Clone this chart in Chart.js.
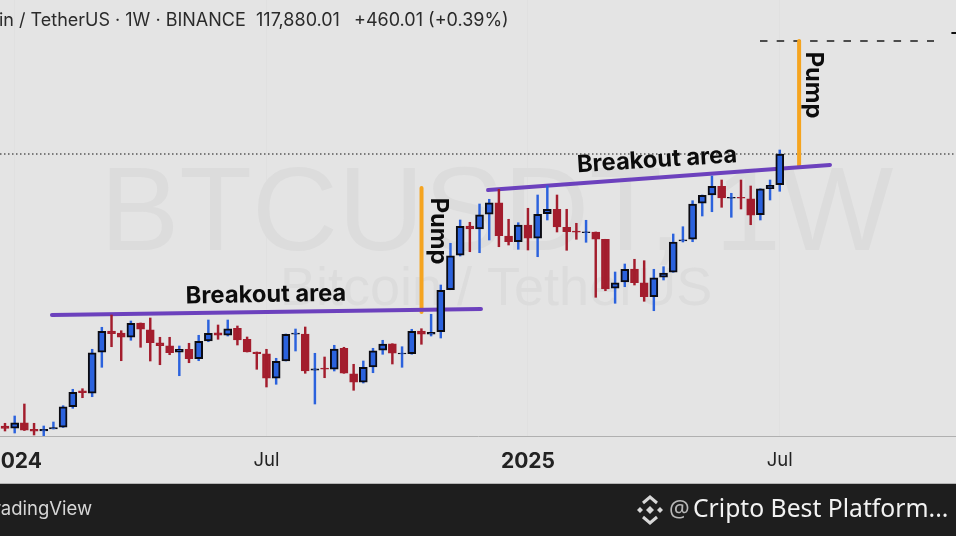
<!DOCTYPE html>
<html>
<head>
<meta charset="utf-8">
<style>
  html, body { margin: 0; padding: 0; background: #e4e4e4; overflow: hidden; }
  canvas { display: block; }
</style>
<script src="https://cdn.jsdelivr.net/npm/chart.js@4/dist/chart.umd.min.js"></script>
</head>
<body>
<canvas id="btcChart" width="956" height="536"></canvas>
<script>
/*------------------------------weekly candles-----------------------------*/
const opens = [
  41720, 41080, 42640, 40800, 40320, 40880, 41360, 47120, 51600, 50880,
  62360, 68320, 67760, 66560, 70560, 68680, 65040, 64200, 62360, 63200,
  60560, 65520, 67840, 67120, 69080, 66000, 62440, 61960, 55080, 59920,
  67400, 67480, 57320, 57960, 57600, 63480, 56360, 53960, 58240, 62920,
  64760, 61880, 61960, 68320, 67400, 68120, 79880, 89520, 97720, 96880,
  101000, 104240, 94920, 93320, 98000, 94280, 101160, 102400, 97360, 96320,
  95840, 96040, 94000, 80280, 82040, 85680, 81840, 77920, 83360, 84760,
  93520, 94000, 104080, 106400, 108840, 105480, 105760, 105360, 100880, 108160,
  109280
];
const highs = [
  42480, 44520, 47880, 42480, 41720, 42840, 47400, 52000, 52160, 63200,
  69360, 72800, 68400, 71120, 70560, 71960, 66560, 66560, 64120, 64880,
  67120, 71400, 70000, 71400, 69720, 66640, 62440, 63200, 60680, 67480,
  68880, 69440, 62080, 61040, 64320, 63760, 59000, 59920, 63480, 65720,
  64760, 63920, 68800, 68960, 73000, 81200, 92880, 99400, 98760, 103880,
  105200, 108000, 99600, 98640, 102680, 106400, 109000, 106400, 102400, 98480,
  99320, 96040, 94000, 84840, 87080, 88400, 88000, 85600, 86320, 95480,
  97520, 104800, 106400, 111720, 110600, 106880, 110600, 108920, 108160, 110600,
  119000
];
const lows = [
  40320, 39760, 40460, 39200, 38920, 40880, 41300, 46680, 49640, 49920,
  58160, 63920, 60000, 65720, 63760, 59920, 58880, 61680, 55800, 59440,
  60000, 65320, 66000, 66920, 64400, 62440, 57600, 52640, 53400, 59920,
  62720, 56480, 47880, 55240, 57120, 56480, 51720, 53760, 56640, 61800,
  59080, 58160, 61800, 64600, 66920, 66360, 79880, 89320, 90520, 90240,
  93800, 91920, 92400, 91200, 91000, 89120, 99400, 96040, 90920, 94000,
  93160, 77760, 79600, 76080, 80720, 81200, 76640, 74000, 82600, 84760,
  93240, 93320, 100520, 101720, 102960, 100160, 102480, 98080, 99400, 105000,
  107440
];
const closes = [
  41020, 42640, 40520, 40240, 40800, 41300, 47120, 51160, 51040, 62240,
  68240, 67560, 66560, 70480, 68800, 65040, 64200, 62240, 63200, 60560,
  65440, 67680, 67120, 68960, 65800, 62440, 61960, 55080, 59840, 67400,
  67760, 57120, 57760, 57600, 63280, 56480, 53960, 58160, 62800, 64680,
  62080, 62160, 68240, 67400, 67960, 79720, 89400, 97640, 96880, 100880,
  104240, 95000, 93320, 98000, 94280, 101000, 102400, 97440, 96120, 95960,
  96120, 94000, 80080, 81840, 85600, 81840, 77920, 83240, 84560, 93240,
  93880, 103880, 106320, 108840, 105560, 105760, 105480, 100720, 108160, 109120,
  117880
];

/*------------------------------axis-----------------------------*/
const tickPositions = [1, 27, 54, 80];
const tickLabels = ["2024", "Jul", "2025", "Jul"];
const boldTicks = ["2024", "2025"];

/*------------------------------drawn lines, [x, price]-----------------------------*/
const breakout1 = [[4.85, 72800], [49.15, 74480]];
const breakout2 = [[49.88, 107800], [85.19, 114800]];
const pump1 = [[43.01, 108360], [43.01, 73640]];
const pump2 = [[82.0, 149520], [82.0, 114520]];
const lastPrice = [[-0.516, 117880], [98.2, 117880]];
const target = [[77.96, 149520], [95.93, 149520]];
const edgeMark = [[97.8, 151760], [98.2, 151760]];

const noteTexts = ["Breakout area", "Breakout area", "Pump", "Pump"];
const noteX = [26.95, 67.33, 44.7, 83.4];
const noteY = [78400, 116200, 96300, 137200];
const noteAngle = [-1, -3.6, 90, 90];

const BLUE = "#2b62dd";
const RED = "#a31d2d";
const xs = closes.map(function(c, i) { return i; });

function toPoints(pair) {
  return pair.map(function(p) { return {x: p[0], y: p[1]}; });
}

function candleColor(ctx) {
  const i = ctx.dataIndex;
  return closes[i] >= opens[i] ? BLUE : RED;
}

function lineSet(pair, color, width, dash) {
  return {
    type: "line",
    data: toPoints(pair),
    borderColor: color,
    borderWidth: width,
    borderDash: dash || [],
    pointRadius: 0,
    borderCapStyle: dash ? "butt" : "round",
    order: 3
  };
}

// watermark behind the candles, header and footer on top
const chartDecor = {
  id: "chartDecor",
  beforeDatasetsDraw: function(chart) {
    const ctx = chart.ctx;
    ctx.save();
    ctx.fillStyle = "#dcdcdc";
    ctx.textAlign = "left";
    ctx.textBaseline = "alphabetic";
    ctx.font = "119px 'Liberation Sans'";
    ctx.fillText("BTCUSDT, 1W", 100, 250);
    ctx.font = "54px 'Liberation Sans'";
    ctx.fillText("Bitcoin / TetherUS", 280, 305);
    ctx.restore();
  },
  afterDraw: function(chart) {
    const ctx = chart.ctx;
    const xScale = chart.scales.x;
    const yScale = chart.scales.y;
    ctx.save();

    // handwritten notes
    ctx.fillStyle = "#0c0c0c";
    ctx.font = "bold 23.7px Inter";
    ctx.textAlign = "center";
    ctx.textBaseline = "middle";
    noteTexts.forEach(function(t, i) {
      ctx.save();
      ctx.translate(xScale.getPixelForValue(noteX[i]), yScale.getPixelForValue(noteY[i]));
      ctx.rotate(noteAngle[i] * Math.PI / 180);
      ctx.fillText(t, 0, 0);
      ctx.restore();
    });

    // header
    ctx.fillStyle = "#2b2b2b";
    ctx.font = "18px Inter";
    ctx.textAlign = "left";
    ctx.textBaseline = "middle";
    ctx.fillText("Bitcoin / TetherUS · 1W · BINANCE", -44, 21);
    ctx.fillText("117,880.01", 256, 21);
    ctx.fillText("+460.01 (+0.39%)", 354, 21);

    // footer
    ctx.fillStyle = "#1e1e1e";
    ctx.fillRect(0, 484, 956, 52);
    ctx.fillStyle = "#b4b4b4";
    ctx.fillRect(0, 483, 956, 1);
    ctx.fillStyle = "#d6d6d6";
    ctx.font = "18.5px Inter";
    ctx.fillText("TradingView", -17, 509);

    // exchange logo
    ctx.fillStyle = "#d8d8d8";
    [[650, 510, 4], [640, 510, 3], [660, 510, 3]].forEach(function(d) {
      ctx.beginPath();
      ctx.moveTo(d[0] - d[2], d[1]);
      ctx.lineTo(d[0], d[1] - d[2]);
      ctx.lineTo(d[0] + d[2], d[1]);
      ctx.lineTo(d[0], d[1] + d[2]);
      ctx.fill();
    });
    ctx.strokeStyle = "#d8d8d8";
    ctx.lineWidth = 3;
    ctx.beginPath();
    ctx.moveTo(643, 503); ctx.lineTo(650, 497); ctx.lineTo(657, 503);
    ctx.moveTo(643, 517); ctx.lineTo(650, 523); ctx.lineTo(657, 517);
    ctx.stroke();

    ctx.fillStyle = "#b8b8b8";
    ctx.font = "23px 'Noto Sans'";
    ctx.fillText("@", 669, 510);
    ctx.fillStyle = "#f2f2f2";
    ctx.font = "24.7px 'Noto Sans'";
    ctx.fillText("Cripto Best Platform...", 693, 510);
    ctx.restore();
  }
};

new Chart("btcChart", {
  data: {
    datasets: [
      {
        type: "bar",
        data: xs.map(function(i) { return {x: i, y: [opens[i], closes[i]]}; }),
        backgroundColor: candleColor,
        borderColor: function(ctx) {
          const i = ctx.dataIndex;
          return closes[i] >= opens[i] ? "#0b0b12" : RED;
        },
        borderWidth: 2,
        borderSkipped: false,
        barThickness: 8,
        grouped: false,
        order: 1
      },
      {
        type: "bar",
        data: xs.map(function(i) { return {x: i, y: [lows[i], highs[i]]}; }),
        backgroundColor: candleColor,
        barThickness: 1.8,
        grouped: false,
        order: 2
      },
      lineSet(breakout1, "#6c41bd", 4),
      lineSet(breakout2, "#6c41bd", 4),
      lineSet(pump1, "#f5a41f", 4),
      lineSet(pump2, "#f5a41f", 4),
      lineSet(lastPrice, "#111111", 1.2, [1.5, 2.5]),
      lineSet(target, "#1a1a1a", 1.5, [7.5, 9.2]),
      lineSet(edgeMark, "#111111", 2)
    ]
  },
  options: {
    responsive: false,
    animation: false,
    layout: {padding: {left: 0, right: 0, top: 0, bottom: 52}},
    plugins: {legend: {display: false}, tooltip: {enabled: false}},
    scales: {
      x: {
        type: "linear",
        offset: false,
        min: -0.516,
        max: 98.2,
        afterBuildTicks: function(scale) {
          scale.ticks = tickPositions.map(function(v) { return {value: v}; });
        },
        afterFit: function(scale) {
          scale.height = 48;
          scale.paddingLeft = 0;
          scale.paddingRight = 0;
        },
        grid: {color: "#e0e0e0", drawTicks: false, offset: false},
        border: {color: "#b0b0b0", width: 1},
        ticks: {
          autoSkip: false,
          maxRotation: 0,
          padding: 13,
          color: "#222222",
          font: function(ctx) {
            const bold = ctx.tick && boldTicks.indexOf(tickLabels[tickPositions.indexOf(ctx.tick.value)]) >= 0;
            return bold ? {family: "Inter", size: 21, weight: "bold"} : {family: "Inter", size: 18.5};
          },
          callback: function(value) {
            return tickLabels[tickPositions.indexOf(value)];
          }
        }
      },
      y: {
        display: false,
        min: 38920,
        max: 161000
      }
    }
  },
  plugins: [chartDecor]
});
</script>
</body>
</html>
